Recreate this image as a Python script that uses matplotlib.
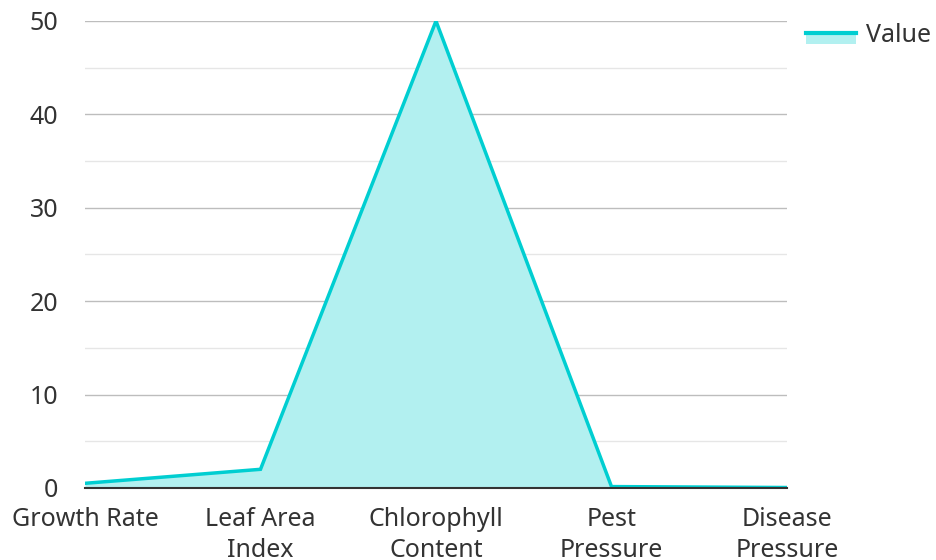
import matplotlib
matplotlib.use("Agg")
from matplotlib import pyplot as plt
from matplotlib.patches import Rectangle
from matplotlib.lines import Line2D
import numpy as np

categories = ["Growth Rate", "Leaf Area\nIndex", "Chlorophyll\nContent", "Pest\nPressure", "Disease\nPressure"]
values = [0.5, 2.0, 50.0, 0.15, 0.05]

LINE_COLOR = "#00CED1"
FILL_COLOR = "#B2F0F0"
FS = 18


class AreaHandler:
    # legend swatch: filled box with the line along its top edge
    def legend_artist(self, legend, orig_handle, fontsize, handlebox):
        x0, y0 = handlebox.xdescent, handlebox.ydescent
        w, h = handlebox.width, handlebox.height
        mid = y0 + h / 2
        rect = Rectangle((x0, mid - 8), w, 8, facecolor=FILL_COLOR, edgecolor="none",
                         transform=handlebox.get_transform())
        line = Line2D([x0, x0 + w], [mid, mid], color=LINE_COLOR, lw=3,
                      transform=handlebox.get_transform())
        handlebox.add_artist(rect)
        handlebox.add_artist(line)
        return rect


plt.rcParams.update({"font.family": ["Noto Sans", "DejaVu Sans"], "font.size": FS})

fig = plt.figure(figsize=(9.36, 5.6), dpi=100)
ax = fig.add_axes([0.0908, 0.1286, 0.75, 0.8339])

x = np.arange(len(categories))
ax.fill_between(x, values, 0, color=FILL_COLOR, linewidth=0, zorder=2)
line, = ax.plot(x, values, color=LINE_COLOR, lw=2.5, solid_joinstyle="miter", zorder=3, label="Value")

ax.set_xlim(0, len(categories) - 1)
ax.set_ylim(0, 50)
ax.set_yticks(np.arange(0, 51, 10))
ax.set_yticks(np.arange(5, 50, 10), minor=True)
ax.set_xticks(x)
ax.set_xticklabels(categories, linespacing=1.3)
ax.grid(which="major", axis="y", color="#BDBDBD", lw=1, zorder=1)
ax.grid(which="minor", axis="y", color="#E6E6E6", lw=1, zorder=1)
ax.tick_params(which="both", length=0, colors="#333333", labelsize=FS)
ax.tick_params(axis="y", pad=19)
ax.tick_params(axis="x", pad=14)
for s in ["left", "right", "top"]:
    ax.spines[s].set_visible(False)
ax.spines["bottom"].set_color("#333333")
ax.spines["bottom"].set_linewidth(1.5)
ax.spines["bottom"].set_zorder(4)

fig.legend([line], ["Value"], handler_map={Line2D: AreaHandler()}, loc="upper right",
           bbox_to_anchor=(1.0, 0.968), borderaxespad=0, borderpad=0.2, frameon=False,
           handlelength=2.0, handletextpad=0.4, fontsize=FS, labelcolor="#333333")

fig.savefig("out.png", dpi=100)
